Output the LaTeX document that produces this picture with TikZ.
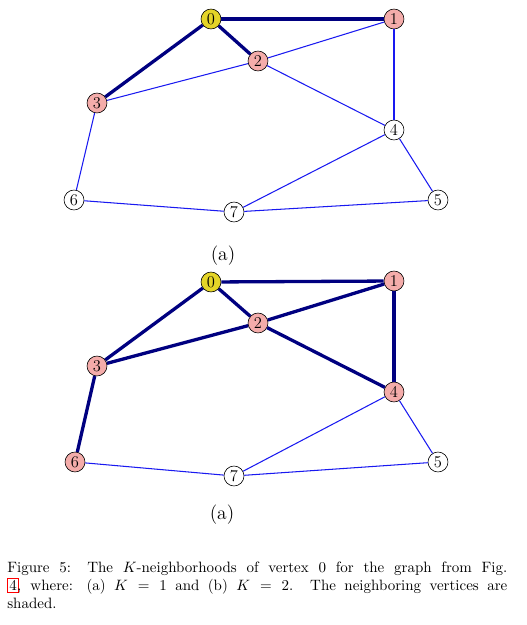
\documentclass[tikz,border=0pt]{standalone}
\usepackage{tikz}
\definecolor{nodeyel}{RGB}{228,212,40}
\definecolor{nodepink}{RGB}{244,172,170}
\definecolor{edgenavy}{RGB}{0,0,128}
\definecolor{edgeblue}{RGB}{25,25,240}
\newcommand{\linkbox}[1]{\kern-1.3pt{\setlength{\fboxsep}{0.8pt}\setlength{\fboxrule}{0.6pt}\fcolorbox{red}{white}{#1}}\kern-1.3pt}

\begin{document}
\begin{tikzpicture}[x=0.667pt,y=-0.667pt,font=\fontsize{11}{13}\selectfont]
  \tikzstyle{vtx}=[draw,circle,inner sep=0pt,minimum size=13.3pt,fill=white]
  \tikzstyle{src}=[vtx,fill=nodeyel]
  \tikzstyle{nb}=[vtx,fill=nodepink]
  \tikzstyle{hop}=[edgenavy,line width=2.2pt]
  \tikzstyle{lnk}=[edgeblue,line width=0.7pt]
  \tikzstyle{sub}=[font=\fontsize{13}{15}\selectfont]
  \useasboundingbox (0,0) rectangle (526,625);
  % (a) K = 1
  \node[src] (a0) at (211,19) {0};
  \node[nb] (a1) at (394,19) {1};
  \node[nb] (a2) at (258,61) {2};
  \node[nb] (a3) at (97,103) {3};
  \node[vtx] (a4) at (394,130) {4};
  \node[vtx] (a5) at (438,200) {5};
  \node[vtx] (a6) at (74,200) {6};
  \node[vtx] (a7) at (234,212) {7};
  \draw[hop] (a0)--(a1); \draw[hop] (a0)--(a2); \draw[hop] (a0)--(a3);
  \draw[lnk] (a1)--(a2); \draw[lnk] (a2)--(a3); \draw[lnk] (a2)--(a4);
  \draw[lnk] (a1)--(a4); \draw[lnk] (a3)--(a6); \draw[lnk] (a6)--(a7);
  \draw[lnk] (a7)--(a4); \draw[lnk] (a7)--(a5); \draw[lnk] (a4)--(a5);
  \node[sub] (lbla) at (223,256) {(a)};
  % (b) K = 2
  \node[src] (b0) at (211,282) {0};
  \node[nb] (b1) at (394,281) {1};
  \node[nb] (b2) at (258,323) {2};
  \node[nb] (b3) at (97,366) {3};
  \node[nb] (b4) at (394,392) {4};
  \node[vtx] (b5) at (438,462) {5};
  \node[nb] (b6) at (75,462) {6};
  \node[vtx] (b7) at (234,476) {7};
  \draw[hop] (b0)--(b1); \draw[hop] (b0)--(b2); \draw[hop] (b0)--(b3);
  \draw[hop] (b1)--(b2); \draw[hop] (b2)--(b3); \draw[hop] (b2)--(b4);
  \draw[hop] (b1)--(b4); \draw[hop] (b3)--(b6); \draw[lnk] (b6)--(b7);
  \draw[lnk] (b7)--(b4); \draw[lnk] (b7)--(b5); \draw[lnk] (b4)--(b5);
  \node[sub] (lblb) at (222,515) {(a)};
  % caption
  \node[anchor=north west,inner sep=0pt,text width=333.5pt,align=justify,
        font=\fontsize{10}{12.2}\selectfont] (cap) at (7,561.5)
    {Figure 5: The $K$-neighborhoods of vertex 0 for the graph from Fig.\linebreak
     \linkbox{4}, where: (a) $K=1$ and (b) $K=2$. The neighboring vertices are\linebreak
     shaded.};
\end{tikzpicture}
\end{document}
